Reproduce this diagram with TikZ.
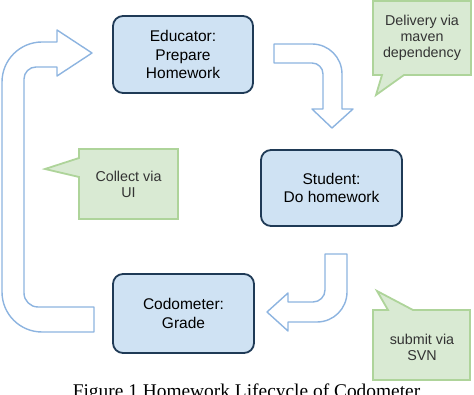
\documentclass[tikz,border=0pt]{standalone}
\usepackage{fontspec}
\setmainfont{Liberation Sans}
\newfontfamily\capfont{Liberation Serif}
\definecolor{boxfill}{HTML}{CFE2F3}
\definecolor{boxline}{HTML}{1F3A56}
\definecolor{arrowline}{HTML}{8DB4E0}
\definecolor{calloutfill}{HTML}{D9EAD3}
\definecolor{calloutline}{HTML}{AED49A}
\definecolor{callouttextcol}{HTML}{333333}
\tikzset{
  stepbox/.style={draw=boxline, fill=boxfill, line width=1.8pt, rounded corners=10pt,
    align=center, inner sep=0pt, font=\fontsize{15.5}{18.5}\selectfont},
  bigarrow/.style={draw=arrowline, fill=white, line width=1.4pt, line join=round},
  calloutshape/.style={draw=calloutline, fill=calloutfill, line width=1.8pt, line join=miter},
  callouttext/.style={align=center, text=callouttextcol, inner sep=0pt,
    font=\fontsize{14.3}{15.8}\selectfont},
}
\begin{document}
\begin{tikzpicture}[x=1pt,y=-1pt]
\useasboundingbox (0,0) rectangle (474,395);
% big hollow arrows
\draw[bigarrow] (94,332) -- (42,332) .. controls (19.9,332) and (2,314.1) .. (2,292)
  -- (2,82) .. controls (2,59.9) and (19.9,42) .. (42,42) -- (57,42) -- (57,30)
  -- (92,53) -- (57,76) -- (57,67) -- (36,67) .. controls (29.4,67) and (24,72.4) .. (24,79)
  -- (24,293) .. controls (24,300.7) and (30.3,307) .. (38,307) -- (94,307) -- cycle;
\draw[bigarrow] (274,44) -- (312,44) .. controls (328.6,44) and (342,57.4) .. (342,74)
  -- (342,109) -- (353,109) -- (332,128) -- (312,109) -- (323,109) -- (323,74)
  .. controls (323,67.9) and (318.1,63) .. (312,63) -- (274,63) -- cycle;
\draw[bigarrow] (325,254) -- (347,254) -- (347,292) .. controls (347,308.6) and (333.6,322) .. (317,322)
  -- (288,322) -- (288,331) -- (267,312) -- (288,293) -- (288,302) -- (313,302)
  .. controls (319.6,302) and (325,296.6) .. (325,290) -- cycle;
% process boxes
\node[stepbox, minimum width=140pt, minimum height=77pt] (educator) at (183,54.5) {Educator:\\Prepare\\Homework};
\node[stepbox, minimum width=141pt, minimum height=76pt] (student) at (331.5,188) {Student:\\Do homework};
\node[stepbox, minimum width=141pt, minimum height=79pt] (codometer) at (183.5,313.5) {Codometer:\\Grade};
% callouts
\draw[calloutshape] (373,1) -- (471,1) -- (471,75) -- (404,75) -- (376,95) -- (382,75) -- (373,75) -- cycle;
\node[callouttext] (delivery) at (422,38) {Delivery via\\maven\\dependency};
\draw[calloutshape] (79,149) -- (178,149) -- (178,219) -- (79,219) -- (79,177) -- (45,169) -- (79,158) -- cycle;
\node[callouttext] (collect) at (128.5,184) {Collect via\\UI};
\draw[calloutshape] (373,310) -- (388,310) -- (377,291) -- (413,310) -- (470,310) -- (470,380) -- (373,380) -- cycle;
\node[callouttext] (submit) at (422,347) {submit via\\SVN};
% caption
\node[anchor=base, inner sep=0pt, font=\capfont\fontsize{19.4}{22}\selectfont] (caption) at (246.5,397.8) {Figure 1 Homework Lifecycle of Codometer};
\end{tikzpicture}
\end{document}
